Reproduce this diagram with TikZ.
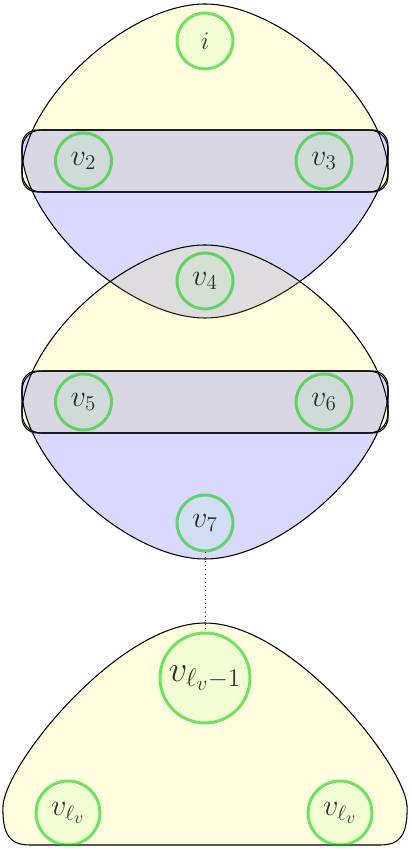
\documentclass[tikz,border=0pt]{standalone}
\usepackage{amsmath,amssymb}
\usepackage{tikz}
\usetikzlibrary{calc,positioning}
\tikzset{
  vertex/.style={circle,draw=green!80!black,line width=1.7pt,draw opacity=0.55,
    fill=green!50,fill opacity=0.1,text opacity=0.8,minimum size=1.12cm,
    inner sep=0pt,font=\LARGE},
  yedge/.style={draw=black,semithick,fill=yellow,fill opacity=0.13},
  bedge/.style={draw=black,semithick,fill=blue,fill opacity=0.15},
  band/.style={draw=black,semithick,rounded corners=0.3cm}
}

\begin{document}
\begin{tikzpicture}
  \useasboundingbox (0,0) rectangle (8.22,17);
  % upper and lower lobes of the two repeated blocks
  \foreach \yc/\ys/\sty in {13.78/1/yedge,13.78/-1/bedge,8.96/1/yedge,8.96/-1/bedge}
    \draw[\sty,shift={(4.1,\yc)},yscale=\ys]
      (0,3.14) .. controls (-1.5,3.14) and (-3.54,1.32) .. (-3.66,-0.14)
      .. controls (-3.68,-0.42) and (-3.54,-0.62) .. (-3.26,-0.62)
      -- (3.26,-0.62)
      .. controls (3.54,-0.62) and (3.68,-0.42) .. (3.66,-0.14)
      .. controls (3.54,1.32) and (1.5,3.14) .. (0,3.14) -- cycle;
  % pairs
  \foreach \yc in {13.78,8.96}
    \draw[band] (0.44,\yc-0.62) rectangle (7.76,\yc+0.62);
  % last block
  \draw[yedge] (4.1,4.54) .. controls (2.4,4.54) and (0.16,1.8) .. (0.06,0.9)
    .. controls (0.04,0.3) and (0.2,0.1) .. (0.6,0.1) -- (7.6,0.1)
    .. controls (8.0,0.1) and (8.16,0.3) .. (8.14,0.9)
    .. controls (8.04,1.8) and (5.8,4.54) .. (4.1,4.54) -- cycle;

  \node[vertex,font=\Large] (i) at (4.1,16.18) {$i$};
  \node[vertex] (v2) at (1.67,13.78) {$v_2$};
  \node[vertex] (v3) at (6.48,13.78) {$v_3$};
  \node[vertex] (v4) at (4.1,11.38) {$v_4$};
  \node[vertex] (v5) at (1.67,8.96) {$v_5$};
  \node[vertex] (v6) at (6.48,8.96) {$v_6$};
  \node[vertex] (v7) at (4.1,6.54) {$v_7$};
  \node[vertex,minimum size=1.8cm,font=\huge] (vlm) at (4.1,3.44) {$v_{\ell_v-1}$};
  \node[vertex,minimum size=1.28cm] (vla) at (1.36,0.74) {$v_{\ell_v}$};
  \node[vertex,minimum size=1.28cm] (vlb) at (6.8,0.74) {$v_{\ell_v}$};

  \draw[dotted] (v7) -- (vlm);
\end{tikzpicture}
\end{document}
